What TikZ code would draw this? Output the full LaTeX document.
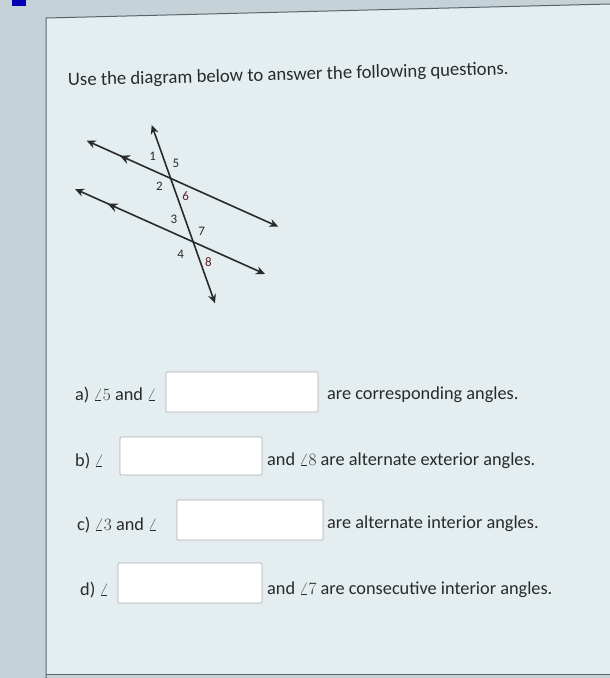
\documentclass[tikz,border=0pt]{standalone}
\usepackage{fontspec}
\setmainfont{Carlito}
\usetikzlibrary{arrows.meta,decorations.markings}
\definecolor{outerbg}{HTML}{C5D3D9}
\definecolor{innerbg}{HTML}{E4EDEF}
\definecolor{framecol}{HTML}{5A6468}
\definecolor{inkcol}{HTML}{2A2A2A}
\definecolor{labred}{HTML}{5A2020}
\definecolor{boxline}{HTML}{A9AEB0}
\tikzset{
  geoline/.style={draw=inkcol,line width=1.6pt,{Stealth[length=9pt,width=8pt]}-{Stealth[length=9pt,width=8pt]}},
  midarrow/.style={postaction={decorate},decoration={markings,mark=at position #1 with {\arrow{Stealth[length=10pt,width=9pt,reversed]}}}},
  numlab/.style={font=\fontsize{13}{14}\selectfont,text=inkcol,inner sep=1pt},
  qtext/.style={font=\fontsize{18.3}{20}\selectfont,text=inkcol,anchor=base west,inner sep=0pt},
  ansbox/.style={draw=boxline,fill=white,line width=0.7pt,rounded corners=1pt}
}
\begin{document}
\begin{tikzpicture}[x=1pt,y=-1pt]
\useasboundingbox (0,0) rectangle (610,678);
\fill[outerbg] (0,0) rectangle (610,678);
\fill[innerbg] (46,18) -- (610,4) -- (610,674) -- (46,674) -- cycle;
\fill[blue!70!black] (12,0) rectangle (26,6);
\draw[framecol,line width=1pt] (46,678) -- (46,18) -- (610,4);
\draw[framecol,line width=1pt] (46,674) -- (610,674);

% title
\node[qtext,font=\fontsize{18.7}{20}\selectfont,rotate=1.5] (title) at (68,86) {Use the diagram below to answer the following questions.};

% diagram
\coordinate (tTop) at (151.7,125);
\coordinate (tBot) at (215,303.3);
\coordinate (uL) at (86.7,140.7);
\coordinate (uR) at (278.3,226.7);
\coordinate (lL) at (75,189);
\coordinate (lR) at (265,274);
\draw[geoline] (tTop) -- (tBot);
\draw[geoline,midarrow=0.22] (uL) -- (uR);
\draw[geoline,midarrow=0.22] (lL) -- (lR);

\node[numlab] (n1) at (152.7,156) {1};
\node[numlab] (n5) at (176,163.3) {5};
\node[numlab] (n2) at (159.3,186) {2};
\node[numlab,text=labred] (n6) at (185.7,196) {6};
\node[numlab] (n3) at (174,219.3) {3};
\node[numlab] (n7) at (201.7,231.7) {7};
\node[numlab] (n4) at (180.7,254) {4};
\node[numlab,text=labred] (n8) at (208.3,261.7) {8};

% question a
\node[qtext] (qa) at (75,400) {a) $\angle 5$ and $\angle$};
\draw[ansbox] (166,372) rectangle (318,412);
\node[qtext] (qa2) at (327,399) {are corresponding angles.};
% question b
\node[qtext] (qb) at (75,466) {b) $\angle$};
\draw[ansbox] (120,437) rectangle (262,475);
\node[qtext] (qb2) at (267,465) {and $\angle 8$ are alternate exterior angles.};
% question c
\node[qtext] (qc) at (77,530) {c) $\angle 3$ and $\angle$};
\draw[ansbox] (177,500) rectangle (323,540);
\node[qtext] (qc2) at (327,528) {are alternate interior angles.};
% question d
\node[qtext] (qd) at (80,595) {d) $\angle$};
\draw[ansbox] (118,563) rectangle (262,603);
\node[qtext] (qd2) at (267,594) {and $\angle 7$ are consecutive interior angles.};
\end{tikzpicture}
\end{document}
